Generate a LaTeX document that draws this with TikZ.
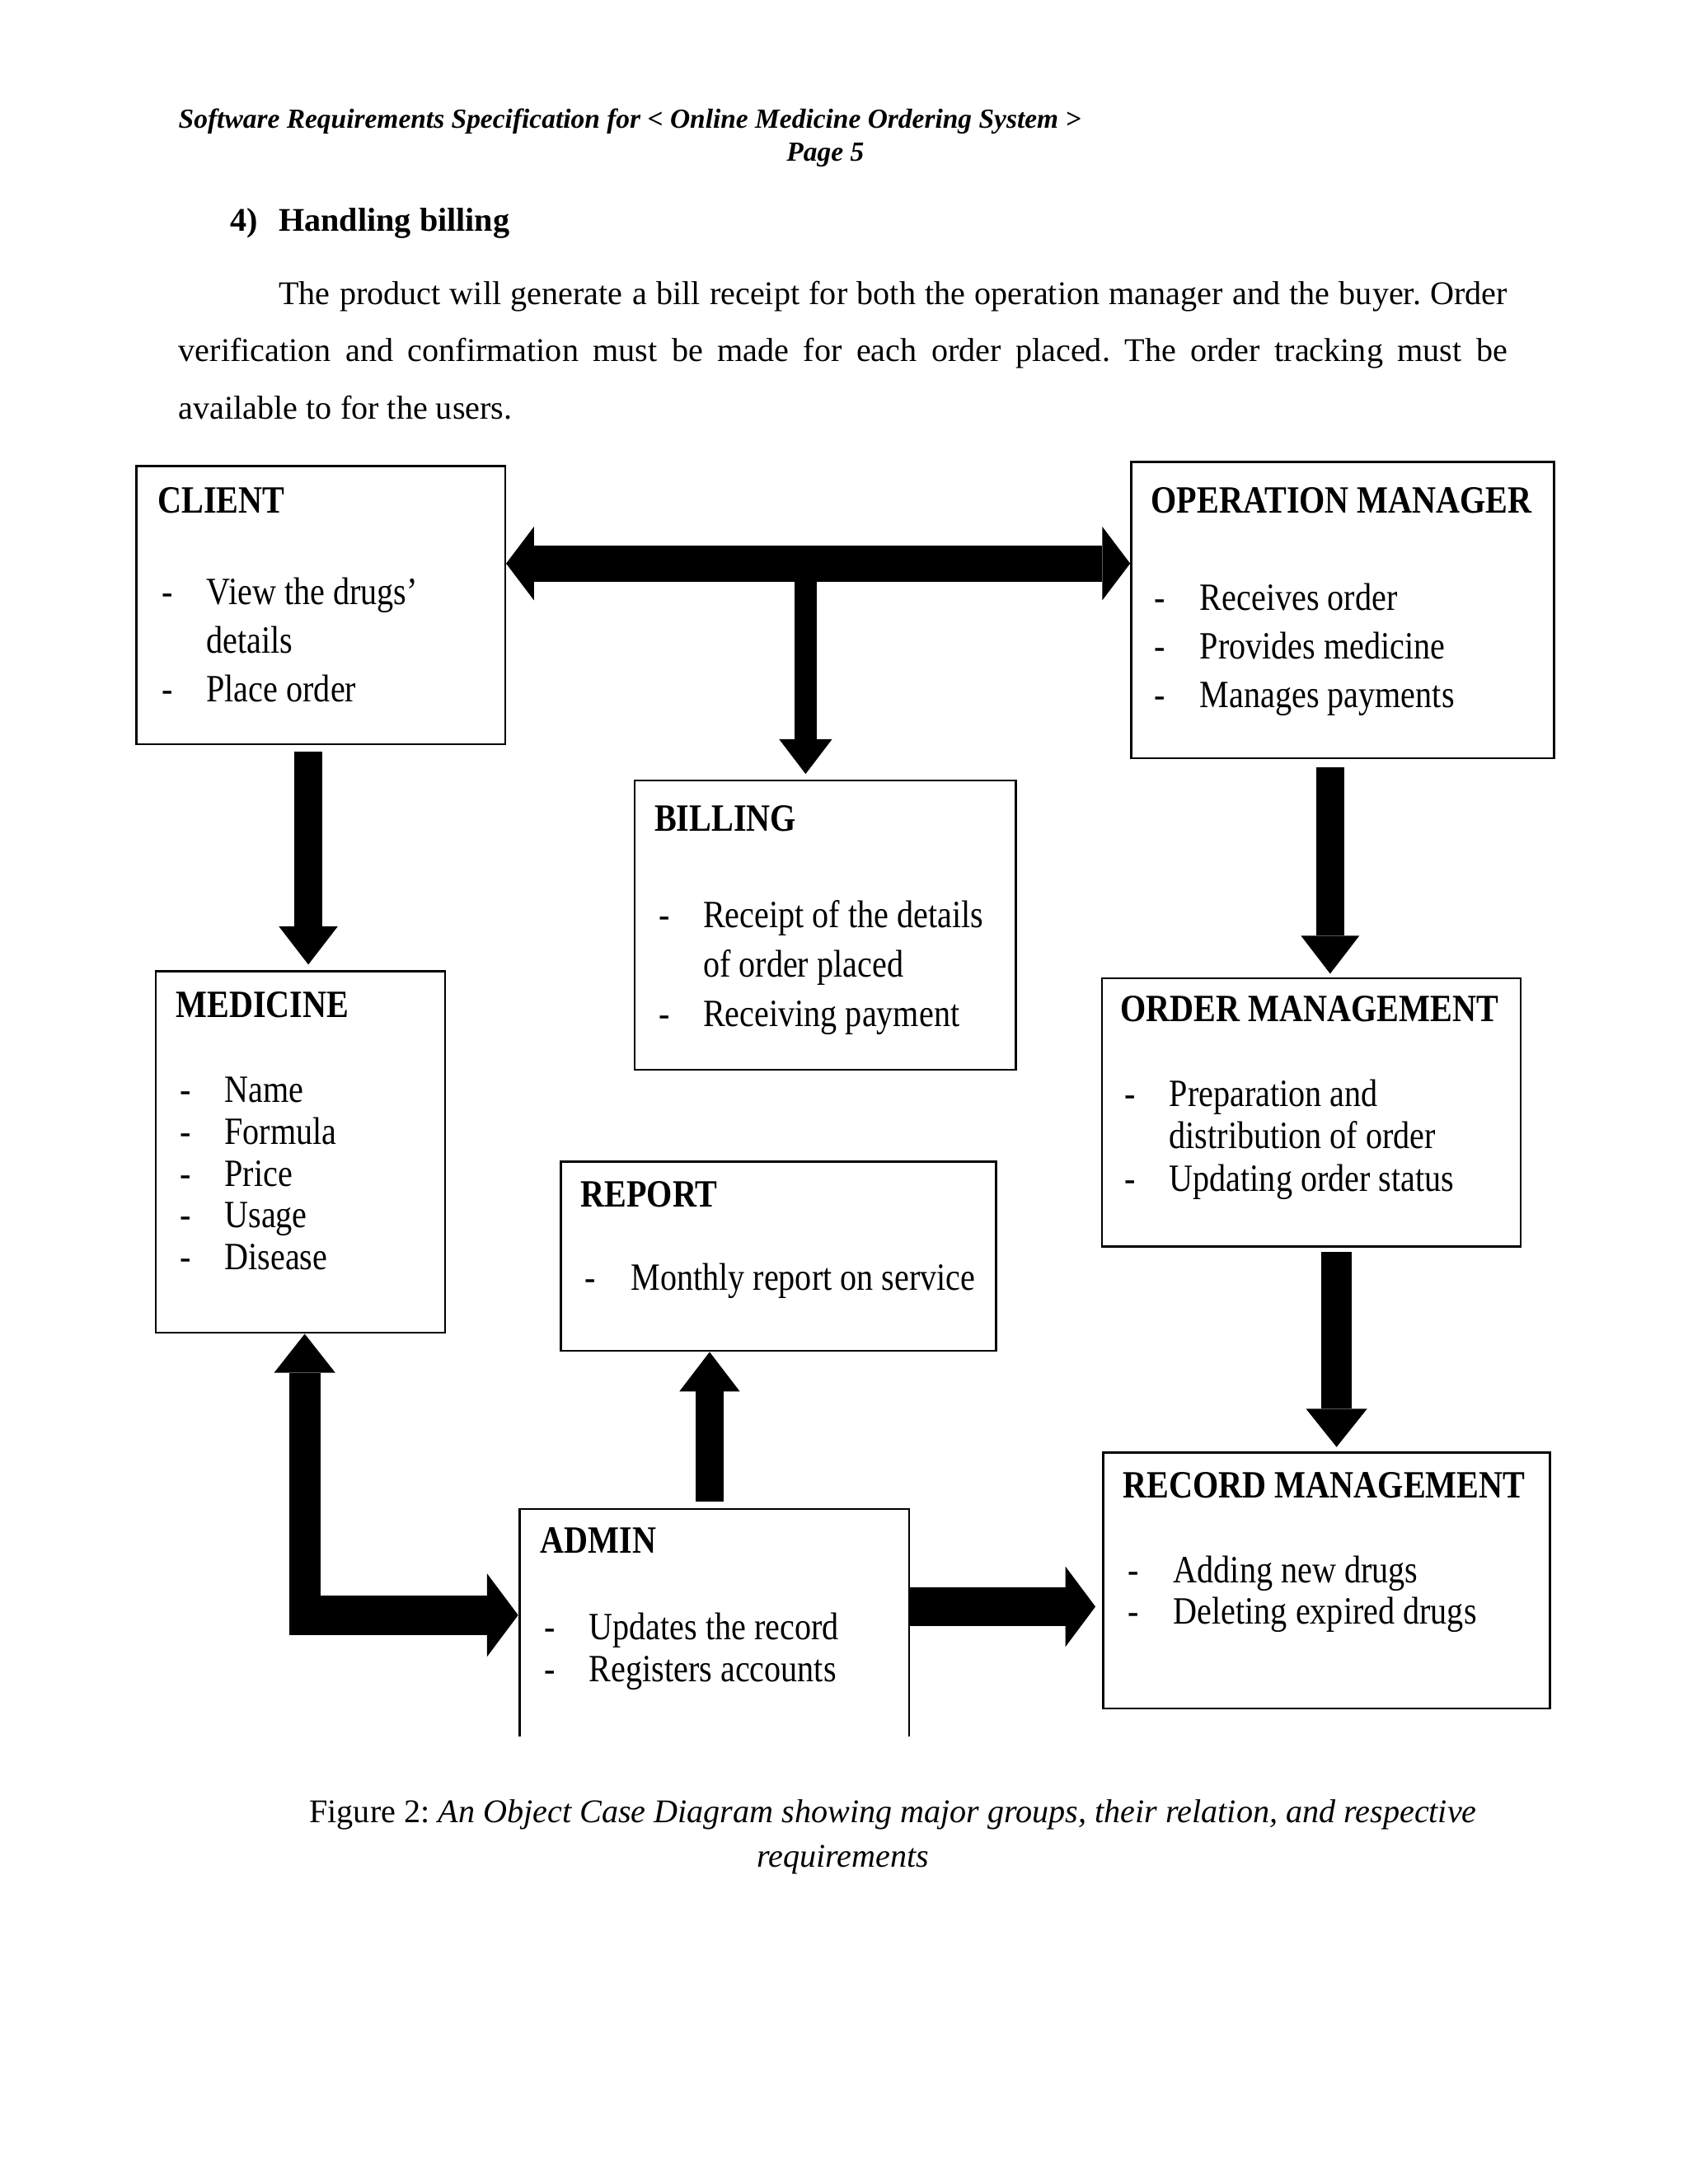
\documentclass[tikz,border=0pt]{standalone}
\usepackage{fontspec}
\setmainfont{Liberation Serif}
\newfontfamily\bx[FakeStretch=0.857]{Liberation Serif}
\usetikzlibrary{arrows.meta,fit}
\tikzset{
  box/.style={draw, line width=0.75pt, inner sep=0pt},
  hd/.style={anchor=base west, inner sep=0pt, font=\bx\fontsize{14pt}{15pt}\selectfont\bfseries},
  itm/.style={anchor=base west, inner sep=0pt, font=\bx\fontsize{14pt}{15pt}\selectfont},
  body/.style={anchor=base west, inner sep=0pt, font=\fontsize{12pt}{14pt}\selectfont},
  hdr/.style={anchor=base west, inner sep=0pt, font=\fontsize{10pt}{12pt}\selectfont\bfseries\itshape},
  blk/.style={line width=#1, line cap=butt},
}
\newcommand\itemline[5]{\node[itm] (#1d) at (#2,#4) {-}; \node[itm] (#1) at (#3,#4) {#5};}
\newcommand\contline[4]{\node[itm] (#1) at (#2,#3) {#4};}
\begin{document}
\frenchspacing
\begin{tikzpicture}[x=0.50453pt,y=-0.50453pt]
\path[fill=white,use as bounding box] (0,0) rectangle (1213,1569.8);

% page header and paragraph
\node[hdr] (hdrline) at (128,92) {Software Requirements Specification for < Online Medicine Ordering System >};
\node[hdr] (pageno) at (565,116) {Page 5};
\node[body, font=\fontsize{12pt}{14pt}\selectfont\bfseries] (secnum) at (165,166) {4)};
\node[body, font=\fontsize{12pt}{14pt}\selectfont\bfseries] (sectitle) at (200,166) {Handling billing};
\node[body] (par1) at (200,219) {\makebox[445.5pt][s]{The product will generate a bill receipt for both the operation manager and the buyer. Order}};
\node[body] (par2) at (128,260) {\makebox[481.8pt][s]{verification and confirmation must be made for each order placed. The order tracking must be}};
\node[body] (par3) at (128,301) {available to for the users.};

% boxes
\node[box, fit={(98,335) (363,535)}] (client) {};
\node[box, fit={(813,332) (1117,545)}] (om) {};
\node[box, fit={(456,561) (730,769)}] (billing) {};
\node[box, fit={(112,698) (320,958)}] (medicine) {};
\node[box, fit={(792,703) (1093,896)}] (order) {};
\node[box, fit={(403,835) (716,971)}] (report) {};
\node[inner sep=0pt, fit={(374,1085) (653,1248)}] (admin) {};
\draw[line width=0.75pt] (admin.south west) -- (admin.north west) -- (admin.north east) -- (admin.south east);
\node[box, fit={(793,1044) (1114,1228)}] (record) {};

% box texts
\node[hd] (clientH) at (113,368.5) {CLIENT};
\itemline{c1}{116}{148}{434.5}{View the drugs’}
\contline{c2}{148}{469.5}{details}
\itemline{c3}{116}{148}{504.5}{Place order}

\node[hd] (omH) at (827,368.5) {OPERATION MANAGER};
\itemline{o1}{829}{862}{438.5}{Receives order}
\itemline{o2}{829}{862}{473.5}{Provides medicine}
\itemline{o3}{829}{862}{508.5}{Manages payments}

\node[hd] (billH) at (470,597.5) {BILLING};
\itemline{b1}{473}{505}{666.5}{Receipt of the details}
\contline{b2}{505}{702.5}{of order placed}
\itemline{b3}{473}{505}{737.5}{Receiving payment}

\node[hd] (medH) at (126,731.5) {MEDICINE};
\itemline{m1}{129}{161}{792.5}{Name}
\itemline{m2}{129}{161}{822.5}{Formula}
\itemline{m3}{129}{161}{852.5}{Price}
\itemline{m4}{129}{161}{882.5}{Usage}
\itemline{m5}{129}{161}{912.5}{Disease}

\node[hd] (ordH) at (805,734.5) {ORDER MANAGEMENT};
\itemline{r1}{808}{840}{795.5}{Preparation and}
\contline{r2}{840}{825.5}{distribution of order}
\itemline{r3}{808}{840}{856.5}{Updating order status}

\node[hd] (repH) at (417,867.5) {REPORT};
\itemline{p1}{420}{453}{927.5}{Monthly report on service}

\node[hd] (admH) at (388,1116.5) {ADMIN};
\itemline{a1}{391}{423}{1178.5}{Updates the record}
\itemline{a2}{391}{423}{1208.5}{Registers accounts}

\node[hd] (recH) at (807,1076.5) {RECORD MANAGEMENT};
\itemline{g1}{810}{843}{1137.5}{Adding new drugs}
\itemline{g2}{810}{843}{1167.5}{Deleting expired drugs}

% block arrows
\coordinate (ybar) at (0,405);
\draw[blk=13.1pt, {Triangle[length=10.1pt,width=26.7pt,line width=0pt]}-{Triangle[length=10.1pt,width=26.7pt,line width=0pt]}] (client.east |- ybar) -- (om.west |- ybar);

\coordinate (xb) at (579,0);
\draw[blk=8.3pt, -{Triangle[length=12.6pt,width=19.2pt,line width=0pt]}, shorten >=2pt] (xb |- ybar) -- (xb |- billing.north);

\coordinate (xa) at (221.6,0);
\draw[blk=10pt, -{Triangle[length=13.8pt,width=21.3pt,line width=0pt]}, shorten <=2.3pt, shorten >=2pt] (xa |- client.south) -- (xa |- medicine.north);

\coordinate (xc) at (956,0);
\draw[blk=10.2pt, -{Triangle[length=13.8pt,width=21.2pt,line width=0pt]}, shorten <=2.9pt, shorten >=1.2pt] (xc |- om.south) -- (xc |- order.north);

\coordinate (xd) at (960.6,0);
\draw[blk=10.9pt, -{Triangle[length=13.9pt,width=22.2pt,line width=0pt]}, shorten <=1.5pt, shorten >=1.6pt] (xd |- order.south) -- (xd |- record.north);

\coordinate (xe) at (510,0);
\draw[blk=10.2pt, -{Triangle[length=14.3pt,width=21.9pt,line width=0pt]}, shorten <=2.8pt] (xe |- admin.north) -- (xe |- report.south);

\coordinate (ya) at (0,1154.8);
\draw[blk=14.1pt, -{Triangle[length=10.9pt,width=29.2pt,line width=0pt]}, shorten >=2.5pt] (admin.east |- ya) -- (record.west |- ya);

\coordinate (elbv) at (219,1175);
\draw[blk=11.3pt, -{Triangle[length=14.1pt,width=22.2pt,line width=0pt]}] (elbv) -- (elbv |- medicine.south);
\coordinate (elbh) at (207.8,1160.9);
\draw[blk=14.3pt, -{Triangle[length=11.3pt,width=30.2pt,line width=0pt]}, shorten >=0.6pt] (elbh) -- (admin.west |- elbh);

% caption
\node[body] (cap1) at (222,1310) {Figure 2: \textit{An Object Case Diagram showing major groups, their relation, and respective}};
\node[body, anchor=base] (cap2) at (606,1342) {\textit{requirements}};
\end{tikzpicture}
\end{document}
